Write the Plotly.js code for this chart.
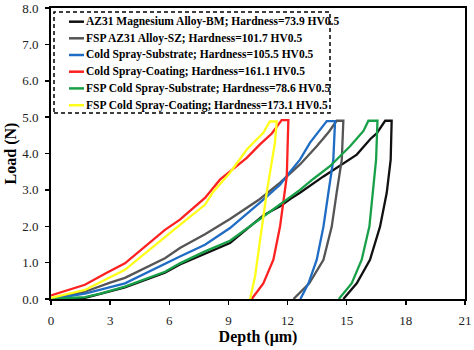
<!DOCTYPE html>
<html>
<head>
<meta charset="utf-8">
<script src="https://cdn.plot.ly/plotly-3.0.1.min.js"></script>
<style>html,body{margin:0;padding:0;background:#fff;}#chart{width:474px;height:350px;}</style>
</head>
<body>
<div id="chart"></div>
<script>
// ---- data ----
var seriesNames = [
  "AZ31 Magnesium Alloy-BM; Hardness=73.9 HV0.5",
  "FSP AZ31 Alloy-SZ; Hardness=101.7 HV0.5",
  "Cold Spray-Substrate; Hardness=105.5 HV0.5",
  "Cold Spray-Coating; Hardness=161.1 HV0.5",
  "FSP Cold Spray-Substrate; Hardness=78.6 HV0.5",
  "FSP Cold Spray-Coating; Hardness=173.1 HV0.5"
];
var seriesColors = ["#111111", "#555555", "#1f6cc4", "#ff2020", "#18a048", "#ffff1a"];

var bmDepth = [0, 1.72, 3.75, 5.78, 6.54, 7.81, 9.08, 10.77, 11.62, 12.13, 12.63, 13.82, 15.51, 16.2, 16.52, 16.95, 17.28, 17.23, 17.03, 16.69, 16.18, 15.51, 14.83];
var bmLoad  = [0, 0.03, 0.32, 0.72, 0.95, 1.25, 1.54, 2.3, 2.55, 2.75, 2.92, 3.37, 3.97, 4.4, 4.55, 4.9, 4.9, 3.83, 2.92, 1.99, 1.08, 0.43, 0];

var szDepth = [0, 1.72, 3.0, 3.75, 5.78, 6.54, 7.81, 9.08, 10.6, 11.62, 12.63, 13.48, 14.1, 14.49, 14.83, 14.75, 14.49, 14.24, 13.82, 13.1, 12.3];
var szLoad  = [0, 0.2, 0.45, 0.58, 1.12, 1.4, 1.78, 2.2, 2.75, 3.2, 3.7, 4.2, 4.6, 4.9, 4.9, 3.83, 2.92, 1.99, 1.08, 0.43, 0];

var subDepth = [0, 1.72, 3.75, 5.78, 6.54, 7.81, 9.08, 10.6, 11.62, 12.13, 12.63, 13.14, 13.99, 14.41, 14.32, 14.07, 13.82, 13.48, 13.06, 12.65];
var subLoad  = [0, 0.15, 0.43, 0.98, 1.17, 1.49, 1.95, 2.65, 3.14, 3.5, 3.83, 4.3, 4.89, 4.89, 3.83, 2.92, 1.99, 1.08, 0.43, 0];

var coatDepth = [0, 1.72, 2.83, 3.75, 5.78, 6.54, 7.81, 8.57, 9.93, 10.6, 11.2, 11.7, 12.04, 11.96, 11.62, 11.28, 10.77, 10.18];
var coatLoad  = [0.1, 0.39, 0.72, 0.98, 1.9, 2.18, 2.78, 3.28, 3.88, 4.25, 4.55, 4.92, 4.92, 3.37, 2.0, 1.08, 0.43, 0];

var fspSubDepth = [0, 1.72, 2.5, 3.75, 5.78, 6.54, 7.81, 9.08, 10.6, 11.62, 12.63, 13.3, 14.15, 15.17, 15.85, 16.1, 16.56, 16.49, 16.32, 16.15, 15.76, 15.25, 14.6];
var fspSubLoad  = [0, 0.05, 0.15, 0.34, 0.75, 0.98, 1.31, 1.6, 2.2, 2.59, 3.0, 3.3, 3.65, 4.2, 4.62, 4.9, 4.9, 3.83, 2.92, 1.99, 1.08, 0.43, 0];

var fspCoatDepth = [0, 1.72, 3.75, 5.78, 6.54, 7.81, 8.23, 9.08, 9.93, 10.77, 11.1, 11.45, 11.36, 10.94, 10.6, 10.35, 10.1];
var fspCoatLoad  = [0.03, 0.25, 0.8, 1.72, 2.04, 2.59, 2.95, 3.47, 4.11, 4.57, 4.88, 4.88, 4.3, 2.92, 1.54, 0.62, 0];

var xTicks = [0, 3, 6, 9, 12, 15, 18, 21];
var yTicks = [0, 1, 2, 3, 4, 5, 6, 7, 8];

// ---- layout helpers (pixel -> paper) ----
var W = 474, H = 350, ML = 51, MR = 9, MT = 8, MB = 51;
var PW = W - ML - MR, PH = H - MT - MB;
function px(p) { return (p - ML) / PW; }
function py(p) { return (H - MB - p) / PH; }

var depthSets = [bmDepth, szDepth, subDepth, coatDepth, fspSubDepth, fspCoatDepth];
var loadSets = [bmLoad, szLoad, subLoad, coatLoad, fspSubLoad, fspCoatLoad];

var traces = depthSets.map(function (d, i) {
  return {
    x: d, y: loadSets[i], type: 'scatter', mode: 'lines', name: seriesNames[i],
    line: { color: seriesColors[i], width: 2.3 }, showlegend: false, hoverinfo: 'skip'
  };
});

var serif = 'Liberation Serif, Times New Roman, serif';
var shapes = [{
  type: 'rect', xref: 'paper', yref: 'paper',
  x0: px(54), x1: px(330), y0: py(113), y1: py(12),
  line: { color: '#000', width: 1.5, dash: '4px,3px' }, fillcolor: 'rgba(0,0,0,0)'
}];
var annotations = [];
var rowY = [21.7, 38.3, 55, 71.7, 88.4, 105.2];
seriesNames.forEach(function (n, i) {
  shapes.push({
    type: 'line', xref: 'paper', yref: 'paper',
    x0: px(69), x1: px(84), y0: py(rowY[i]), y1: py(rowY[i]),
    line: { color: seriesColors[i], width: 2.5 }
  });
  annotations.push({
    xref: 'paper', yref: 'paper', x: px(84), y: py(rowY[i]),
    xanchor: 'left', yanchor: 'middle', showarrow: false,
    text: '<b>' + n + '</b>',
    font: { family: serif, size: 11.5, color: '#000' }
  });
});

var layout = {
  width: W, height: H,
  margin: { l: ML, r: MR, t: MT, b: MB, pad: 0 },
  paper_bgcolor: '#fff', plot_bgcolor: '#fff',
  showlegend: false,
  xaxis: {
    range: [0, 21], tickvals: xTicks, ticktext: xTicks.map(String),
    ticks: 'outside', ticklen: 4, tickwidth: 1.5, tickcolor: '#000',
    ticklabelstandoff: 4,
    showline: true, linecolor: '#000', linewidth: 2, mirror: true,
    showgrid: false, zeroline: false,
    tickfont: { family: serif, size: 13, color: '#222' },
    title: { text: '<b>Depth (μm)</b>', font: { family: serif, size: 16, color: '#000' }, standoff: 2 }
  },
  yaxis: {
    range: [0, 8], tickvals: yTicks, ticktext: yTicks.map(function (v) { return v.toFixed(1); }),
    ticks: 'outside', ticklen: 4, tickwidth: 1.5, tickcolor: '#000',
    ticklabelstandoff: 4,
    showline: true, linecolor: '#000', linewidth: 2, mirror: true,
    showgrid: false, zeroline: false,
    tickfont: { family: serif, size: 13, color: '#222' },
    title: { text: '<b>Load (N)</b>', font: { family: serif, size: 16, color: '#000' }, standoff: 2 }
  },
  shapes: shapes,
  annotations: annotations
};

Plotly.newPlot('chart', traces, layout, { displayModeBar: false, staticPlot: true });
</script>
</body>
</html>
